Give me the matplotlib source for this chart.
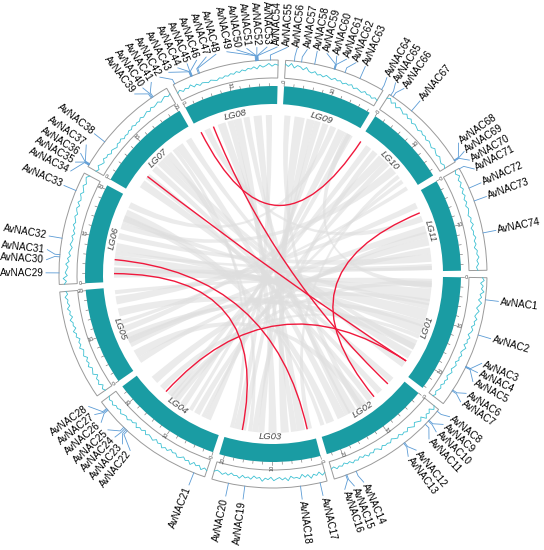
import numpy as np
import matplotlib
matplotlib.use('Agg')
import matplotlib.pyplot as plt
from matplotlib.patches import Wedge, PathPatch
from matplotlib.path import Path

# ---------------- data ----------------
chrom_names = ['LG01', 'LG02', 'LG03', 'LG04', 'LG05', 'LG06',
               'LG07', 'LG08', 'LG09', 'LG10', 'LG11']
chrom_len = [24.5, 23.0, 21.1, 23.4, 20.2, 20.9, 20.3, 19.7, 18.6, 17.2, 19.3]

gene_names = ['AvNAC%d' % i for i in range(1, 75)]
gene_chr = [1, 1, 1, 1, 1, 1, 1,
            2, 2, 2, 2, 2, 2, 2, 2, 2,
            3, 3, 3, 3,
            4, 4, 4, 4, 4, 4, 4, 4,
            6, 6, 6, 6, 6,
            7, 7, 7, 7, 7, 7, 7, 7,
            8, 8, 8, 8, 8, 8, 8, 8, 8, 8, 8, 8, 8, 8,
            9, 9, 9, 9, 9, 9, 9, 9, 9,
            10, 10, 10, 10, 10, 10,
            11, 11, 11, 11]
gene_pos = [4.0, 10.5, 16.6, 16.7, 16.8, 21.5, 21.7,
            0.4, 2.6, 2.8, 3.6, 8.6, 8.8, 18.8, 20.6, 20.8,
            1.3, 4.9, 15.0, 18.0,
            2.1, 16.4, 16.7, 17.0, 17.3, 21.5, 21.7, 21.9,
            2.1, 5.0, 5.4, 8.4, 17.4,
            0.3, 0.4, 0.5, 0.6, 5.4, 17.0, 17.2, 17.4,
            0.3, 3.5, 3.6, 3.7, 3.8, 5.0, 5.2, 15.6, 15.7, 15.8, 15.9, 16.0, 16.1, 18.3,
            1.6, 2.9, 5.3, 8.9, 9.0, 9.1, 11.0, 13.9, 18.3,
            0.3, 0.8, 5.0, 16.8, 16.9, 17.0,
            0.1, 4.0, 6.5, 12.5]

# gene density track (relative value 0-1) per chromosome
track_LG01 = [0.82, 0.95, 0.7, 0.9, 0.78, 0.98, 0.72, 0.85, 0.65, 0.9, 0.75, 0.6, 0.82, 0.68, 0.58, 0.78,
              0.62, 0.72, 0.52, 0.68, 0.6, 0.45, 0.65, 0.5, 0.58, 0.4, 0.62, 0.48, 0.38, 0.55, 0.42, 0.5,
              0.32, 0.48, 0.4, 0.28, 0.45, 0.35, 0.25, 0.42, 0.3, 0.38, 0.22, 0.35, 0.28, 0.18, 0.32, 0.2]
track_LG02 = [0.72, 0.88, 0.6, 0.8, 0.68, 0.9, 0.55, 0.75, 0.62, 0.5, 0.72, 0.58, 0.45, 0.65, 0.52, 0.6,
              0.42, 0.58, 0.48, 0.35, 0.55, 0.45, 0.5, 0.38, 0.6, 0.42, 0.32, 0.5, 0.4, 0.55, 0.35, 0.45,
              0.3, 0.48, 0.38, 0.52, 0.33, 0.42, 0.28, 0.45, 0.36, 0.5, 0.3, 0.4]
track_LG03 = [0.5, 0.65, 0.38, 0.58, 0.45, 0.7, 0.4, 0.55, 0.32, 0.6, 0.48, 0.52, 0.36, 0.66, 0.44, 0.58,
              0.4, 0.5, 0.62, 0.38, 0.55, 0.45, 0.68, 0.42, 0.5, 0.35, 0.6, 0.46, 0.56, 0.4, 0.64, 0.48,
              0.52, 0.38, 0.58, 0.45, 0.62, 0.5, 0.42, 0.55]
track_LG04 = [0.68, 0.55, 0.75, 0.5, 0.62, 0.45, 0.7, 0.48, 0.58, 0.4, 0.55, 0.62, 0.42, 0.5, 0.36, 0.56,
              0.45, 0.6, 0.38, 0.48, 0.32, 0.52, 0.42, 0.35, 0.5, 0.28, 0.45, 0.38, 0.55, 0.3, 0.46, 0.4,
              0.58, 0.44, 0.5, 0.62, 0.42, 0.55, 0.48, 0.65, 0.5, 0.6, 0.45]
track_LG05 = [0.42, 0.55, 0.35, 0.6, 0.45, 0.52, 0.3, 0.58, 0.48, 0.4, 0.62, 0.45, 0.55, 0.38, 0.6, 0.5,
              0.42, 0.65, 0.48, 0.56, 0.4, 0.62, 0.52, 0.7, 0.46, 0.6, 0.55, 0.72, 0.5, 0.66, 0.58, 0.75,
              0.55, 0.68, 0.62, 0.8, 0.6, 0.7]
track_LG06 = [0.78, 0.62, 0.85, 0.55, 0.7, 0.6, 0.5, 0.68, 0.45, 0.58, 0.38, 0.52, 0.42, 0.32, 0.5, 0.4,
              0.35, 0.48, 0.3, 0.45, 0.38, 0.55, 0.42, 0.5, 0.6, 0.45, 0.58, 0.65, 0.5, 0.7, 0.55, 0.62,
              0.75, 0.58, 0.7, 0.82, 0.65, 0.78, 0.88, 0.7]
track_LG07 = [0.48, 0.35, 0.55, 0.4, 0.3, 0.5, 0.36, 0.42, 0.25, 0.38, 0.3, 0.2, 0.35, 0.28, 0.4, 0.22,
              0.32, 0.26, 0.38, 0.3, 0.45, 0.32, 0.4, 0.35, 0.5, 0.38, 0.46, 0.55, 0.42, 0.6, 0.5, 0.56,
              0.65, 0.5, 0.62, 0.72, 0.58, 0.68]
track_LG08 = [0.45, 0.58, 0.38, 0.52, 0.42, 0.6, 0.35, 0.48, 0.3, 0.42, 0.36, 0.28, 0.4, 0.32, 0.25, 0.38,
              0.3, 0.42, 0.35, 0.48, 0.4, 0.55, 0.45, 0.6, 0.5, 0.65, 0.58, 0.72, 0.55, 0.8, 0.65, 0.75,
              0.9, 0.7, 0.85, 0.78]
track_LG09 = [0.88, 0.72, 0.95, 0.65, 0.85, 0.78, 0.6, 0.8, 0.55, 0.48, 0.62, 0.42, 0.5, 0.38, 0.55, 0.45,
              0.36, 0.52, 0.4, 0.48, 0.32, 0.45, 0.38, 0.5, 0.3, 0.42, 0.35, 0.28, 0.45, 0.32, 0.38, 0.25,
              0.4, 0.3]
track_LG10 = [0.82, 0.95, 0.7, 0.88, 0.62, 0.8, 0.72, 0.58, 0.75, 0.55, 0.68, 0.48, 0.6, 0.52, 0.42, 0.58,
              0.45, 0.52, 0.38, 0.5, 0.42, 0.32, 0.48, 0.36, 0.28, 0.42, 0.3, 0.22, 0.35, 0.25]
track_LG11 = [0.85, 0.72, 0.92, 0.68, 0.8, 0.6, 0.75, 0.55, 0.68, 0.5, 0.62, 0.45, 0.58, 0.52, 0.4, 0.56,
              0.46, 0.6, 0.38, 0.5, 0.44, 0.58, 0.42, 0.52, 0.36, 0.55, 0.48, 0.62, 0.45, 0.56, 0.4, 0.5]
tracks = [track_LG01, track_LG02, track_LG03, track_LG04, track_LG05, track_LG06,
          track_LG07, track_LG08, track_LG09, track_LG10, track_LG11]

# grey synteny ribbons
rib_a_chr = [6, 6, 6, 6, 6, 5, 5, 5, 5, 5, 4, 4, 4, 4, 3, 3, 3, 3, 3, 2, 2, 2, 2, 2, 1, 1, 8, 9, 10, 10, 11, 9,
             7, 8, 4, 3, 1, 1, 11, 11, 10, 10, 9, 9, 8, 8, 7, 7, 7, 6, 6, 5, 1, 4]
rib_a_s = [1.0, 4.0, 7.5, 10.5, 13.0, 2.0, 5.0, 9.0, 13.0, 16.0, 3.0, 6.0, 10.0, 19.0, 2.0, 6.0, 9.0, 12.0, 15.0,
           1.0, 5.0, 13.0, 16.0, 19.0, 19.0, 0.5, 1.5, 12.0, 2.0, 16.0, 17.5, 16.5,
           18.0, 17.0, 16.5, 0.3, 6.5, 11.0, 13.5, 9.5, 8.0, 4.0, 8.0, 0.5, 11.5, 7.5, 4.5, 10.5, 14.0, 2.0, 15.0,
           6.0, 1.5, 13.0]
rib_a_e = [3.5, 6.5, 9.5, 12.0, 14.5, 4.0, 7.0, 10.5, 15.0, 18.0, 4.5, 7.5, 11.5, 21.0, 4.0, 8.0, 11.0, 13.5, 16.0,
           2.5, 6.5, 15.0, 18.0, 21.0, 21.0, 2.5, 3.0, 13.5, 3.5, 17.0, 19.0, 18.0,
           19.5, 18.5, 18.0, 1.5, 8.0, 12.5, 15.0, 11.0, 9.5, 5.5, 9.5, 2.0, 13.0, 9.0, 6.0, 12.0, 15.0, 3.5, 16.5,
           7.5, 3.0, 14.5]
rib_b_chr = [1, 1, 1, 11, 10, 2, 11, 10, 1, 11, 9, 10, 9, 11, 8, 9, 8, 9, 7, 7, 7, 8, 7, 6, 7, 5, 11, 6, 4, 5, 6, 4,
             1, 3, 1, 10, 6, 5, 5, 4, 4, 3, 3, 2, 2, 3, 2, 1, 3, 11, 2, 1, 9, 1]
rib_b_s = [3.0, 8.0, 12.0, 15.0, 10.0, 10.0, 8.0, 6.0, 16.0, 2.0, 10.0, 14.0, 14.0, 11.0, 14.0, 3.0, 9.0, 6.0, 12.0,
           2.0, 7.0, 5.0, 15.0, 16.0, 9.0, 18.5, 5.5, 18.5, 14.0, 11.0, 6.5, 8.0,
           22.0, 18.0, 14.5, 12.5, 14.5, 7.0, 0.5, 12.0, 4.5, 13.5, 16.5, 11.0, 14.5, 4.0, 8.0, 17.0, 19.5, 18.0,
           21.5, 5.5, 16.0, 1.0]
rib_b_e = [6.0, 11.0, 14.5, 17.0, 12.0, 12.0, 10.0, 8.0, 18.5, 3.5, 11.5, 15.0, 16.0, 13.0, 16.0, 5.5, 11.0, 8.0, 13.5,
           4.0, 8.5, 7.0, 17.0, 18.0, 10.5, 19.5, 7.0, 20.0, 15.5, 12.0, 7.5, 9.0,
           23.5, 19.5, 15.5, 13.5, 16.0, 8.5, 2.0, 13.5, 5.5, 15.0, 18.0, 12.5, 16.0, 5.5, 9.5, 18.5, 20.5, 19.0,
           22.5, 7.0, 17.5, 2.5]

# red highlighted links (segmental duplications)
red_a_chr = [8, 8, 7, 11, 6, 6, 4]
red_a_pos = [0.6, 3.9, 5.2, 4.7, 5.4, 2.0, 16.0]
red_b_chr = [10, 2, 1, 2, 3, 3, 1]
red_b_pos = [0.4, 3.0, 21.7, 7.6, 1.5, 17.4, 21.7]

# ---------------- layout ----------------
CX, CY = 273.0, 274.0
GAP = 2.0
SCALE = (360.0 - GAP * len(chrom_len)) / sum(chrom_len)
starts = []
a = GAP / 2
for L in chrom_len:
    starts.append(a)
    a += L * SCALE + GAP

R_LINK = 159
R_TEAL_IN, R_TEAL_OUT = 170, 188
R_BOX_IN, R_BOX_OUT = 196, 214
R_LAB = 229

TEAL = '#1a9ca3'
CYAN = '#3cc0d2'
LEAD = '#5b9bd5'
RED = '#f0183c'
FONT = ['Liberation Sans', 'DejaVu Sans']


def ang(c, p):
    return starts[c - 1] + p * SCALE


def pt(r, t):
    tr = np.deg2rad(t)
    return CX + r * np.cos(tr), CY + r * np.sin(tr)


def radial(t):
    t = t % 360
    if t < 90 or t > 270:
        return -t, 'left'
    return 180 - t, 'right'


def spread(target, sep):
    clusters = [[i] for i in range(len(target))]
    centers = [target[i] for i in range(len(target))]
    merged = True
    while merged:
        merged = False
        for j in range(len(clusters) - 1):
            endA = centers[j] + (len(clusters[j]) - 1) / 2 * sep
            startB = centers[j + 1] - (len(clusters[j + 1]) - 1) / 2 * sep
            if startB - endA < sep:
                idx = clusters[j] + clusters[j + 1]
                clusters[j:j + 2] = [idx]
                centers[j:j + 2] = [float(np.mean([target[k] for k in idx]))]
                merged = True
                break
    out = np.zeros(len(target))
    for cl, cen in zip(clusters, centers):
        for k, i in enumerate(cl):
            out[i] = cen + (k - (len(cl) - 1) / 2) * sep
    return out


fig = plt.figure(figsize=(5.44, 5.5), dpi=100)
ax = fig.add_axes([0, 0, 1, 1])
ax.set_xlim(0, 544)
ax.set_ylim(550, 0)
ax.axis('off')

# ribbons
for i in range(len(rib_a_chr)):
    a1, a2 = ang(rib_a_chr[i], rib_a_s[i]), ang(rib_a_chr[i], rib_a_e[i])
    b1, b2 = ang(rib_b_chr[i], rib_b_s[i]), ang(rib_b_chr[i], rib_b_e[i])
    if a1 > b1:
        a1, a2, b1, b2 = b1, b2, a1, a2
    verts, codes = [], []
    for k, t in enumerate(np.linspace(a1, a2, 20)):
        verts.append(pt(R_LINK, t)); codes.append(Path.MOVETO if k == 0 else Path.LINETO)
    verts += [(CX, CY), pt(R_LINK, b1)]; codes += [Path.CURVE3, Path.CURVE3]
    for t in np.linspace(b1, b2, 20)[1:]:
        verts.append(pt(R_LINK, t)); codes.append(Path.LINETO)
    verts += [(CX, CY), pt(R_LINK, a1)]; codes += [Path.CURVE3, Path.CURVE3]
    verts.append(pt(R_LINK, a1)); codes.append(Path.CLOSEPOLY)
    ax.add_patch(PathPatch(Path(verts, codes), facecolor='#dedede', edgecolor='none', alpha=0.6, zorder=1))

# red links
for i in range(len(red_a_chr)):
    p0 = pt(R_LINK, ang(red_a_chr[i], red_a_pos[i]))
    p1 = pt(R_LINK, ang(red_b_chr[i], red_b_pos[i]))
    ax.add_patch(PathPatch(Path([p0, (CX, CY), p1], [Path.MOVETO, Path.CURVE3, Path.CURVE3]),
                           facecolor='none', edgecolor=RED, lw=1.0, zorder=2))

# chromosomes, ticks, track boxes
for c, (name, L) in enumerate(zip(chrom_names, chrom_len), start=1):
    t0, t1 = ang(c, 0), ang(c, L)
    ax.add_patch(Wedge((CX, CY), R_TEAL_OUT, t0, t1, width=R_TEAL_OUT - R_TEAL_IN,
                       facecolor=TEAL, edgecolor='none', zorder=3))
    tm = (t0 + t1) / 2
    rot = (-tm - 90) % 360
    if rot > 180:
        rot -= 360
    if rot > 90:
        rot -= 180
    elif rot <= -90:
        rot += 180
    x, y = pt(163, tm)
    ax.text(x, y, name, fontsize=6.8, style='italic', color='#444444', rotation=rot,
            ha='center', va='center', rotation_mode='anchor', family=FONT, zorder=4)
    for p in range(0, int(L) + 1, 2):
        t = ang(c, p)
        r2 = 191.5 if p % 10 == 0 else 190.5
        (xa, ya), (xb, yb) = pt(R_TEAL_OUT, t), pt(r2, t)
        ax.plot([xa, xb], [ya, yb], color='#666666', lw=0.4, zorder=3)
        if p % 10 == 0:
            rr, _ = radial(t)
            x, y = pt(193.5, t)
            ax.text(x, y, str(p), fontsize=3.6, color='#444444', rotation=rr, ha='center',
                    va='center', rotation_mode='anchor', zorder=4)
    ax.add_patch(Wedge((CX, CY), R_BOX_OUT, t0, t1, width=R_BOX_OUT - R_BOX_IN,
                       facecolor='none', edgecolor='#9a9a9a', lw=0.7, zorder=3))
    vals = np.array(tracks[c - 1])
    ts = t0 + np.linspace(0, L, len(vals)) * SCALE
    rs = R_BOX_IN + 2 + vals * (R_BOX_OUT - R_BOX_IN - 4)
    xs, ys = pt(rs, ts)
    ax.plot(xs, ys, color=CYAN, lw=0.6, zorder=4)

# gene labels with spread-out positions
gang = np.array([ang(c, p) for c, p in zip(gene_chr, gene_pos)])
lab = spread(gang, 2.55)

for name, g, l in zip(gene_names, gang, lab):
    p1, p2, p3 = pt(R_BOX_OUT, g), pt(219, g), pt(227, l)
    ax.plot([p1[0], p2[0], p3[0]], [p1[1], p2[1], p3[1]], color=LEAD, lw=0.6, zorder=3)
    rr, ha = radial(l)
    x, y = pt(R_LAB, l)
    ax.text(x, y, name, fontsize=7.2, fontstyle='normal', color='black', rotation=rr, ha=ha, va='center',
            rotation_mode='anchor', family=FONT, zorder=5)

fig.savefig('out.png', dpi=100, facecolor='white')
